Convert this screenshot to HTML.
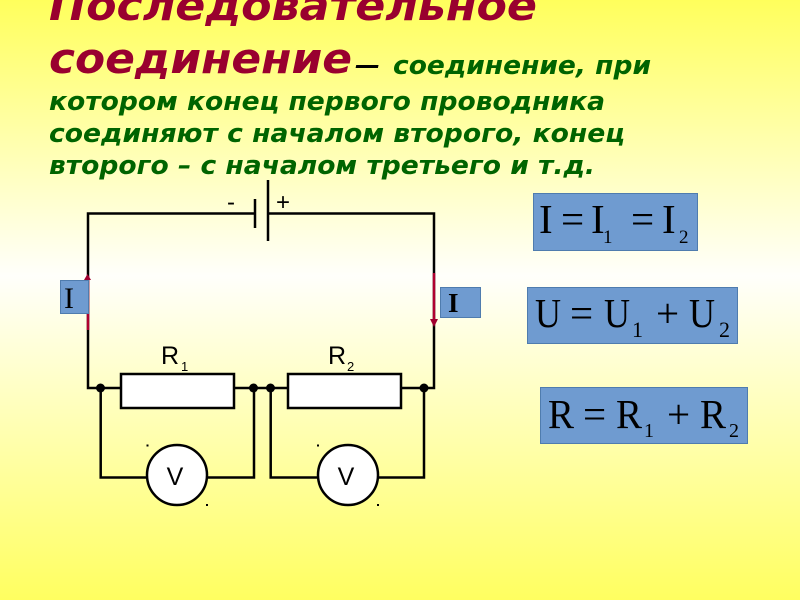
<!DOCTYPE html>
<html lang="ru">
<head>
<meta charset="utf-8">
<title>Последовательное соединение</title>
<style>
html,body{margin:0;padding:0;width:800px;height:600px;overflow:hidden}
body{background:linear-gradient(180deg,#ffff5c 0,#fffffb 46%,#ffff60 100%)}
svg{display:block}
.t{font-family:"DejaVu Sans",sans-serif;font-weight:bold;font-style:italic}
.s{font-family:"Liberation Serif",serif;fill:#000}
.a{font-family:"Liberation Sans",sans-serif;fill:#000}
</style>
</head>
<body>
<svg width="800" height="600" viewBox="0 0 800 600" xmlns="http://www.w3.org/2000/svg">
<text class="t" x="49" y="20" font-size="42" fill="#99002f" textLength="488" lengthAdjust="spacingAndGlyphs">Последовательное</text>
<text class="t" x="49" y="73" font-size="42" fill="#99002f" textLength="303" lengthAdjust="spacingAndGlyphs">соединение</text>
<text class="t" x="355" y="73" font-size="24" fill="#000" textLength="25" lengthAdjust="spacingAndGlyphs">—</text>
<text class="t" x="393" y="74" font-size="25.500" fill="#006400" textLength="258" lengthAdjust="spacingAndGlyphs">соединение, при</text>
<text class="t" x="49" y="110" font-size="25.500" fill="#006400" textLength="556" lengthAdjust="spacingAndGlyphs">котором конец первого проводника</text>
<text class="t" x="49" y="142" font-size="25.500" fill="#006400" textLength="576" lengthAdjust="spacingAndGlyphs">соединяют с началом второго, конец</text>
<text class="t" x="49" y="174" font-size="25.500" fill="#006400" textLength="546" lengthAdjust="spacingAndGlyphs">второго – с началом третьего и т.д.</text>

<!-- wires -->
<g fill="none" stroke="#000" stroke-width="2.500">
<path d="M255 213.500H88V388H121"/>
<path d="M268 213.500H434V388H401"/>
<path d="M234 388H288"/>
<path d="M255 199V228"/>
<path d="M268 180V241"/>
<path d="M100.700 388V477.500H147"/>
<path d="M254 388V477.500H207"/>
<path d="M270.700 388V477.500H318"/>
<path d="M424 388V477.500H378"/>
</g>
<!-- red arrows -->
<path d="M88 276V330" stroke="#b00030" stroke-width="2.500" fill="none"/>
<path d="M84 280L87.500 274L91 280Z" fill="#a00030"/>
<path d="M434 273V320" stroke="#b00030" stroke-width="2.500" fill="none"/>
<path d="M430 319H438L434 327Z" fill="#a00030"/>

<!-- resistors -->
<rect x="121" y="374" width="113" height="34" fill="#fff" stroke="#000" stroke-width="2.500"/>
<rect x="288" y="374" width="113" height="34" fill="#fff" stroke="#000" stroke-width="2.500"/>
<!-- nodes -->
<g fill="#000">
<circle cx="100.500" cy="388" r="4.500"/>
<circle cx="253.500" cy="388" r="4.500"/>
<circle cx="270.500" cy="388" r="4.500"/>
<circle cx="424" cy="388" r="4.500"/>
<rect x="146.500" y="444.500" width="2" height="2"/>
<rect x="206" y="504" width="2" height="2"/>
<rect x="317" y="444.500" width="2" height="2"/>
<rect x="377" y="504" width="2" height="2"/>
</g>
<!-- voltmeters -->
<circle cx="177" cy="475" r="30" fill="#fff" stroke="#000" stroke-width="2.500"/>
<circle cx="348" cy="475" r="30" fill="#fff" stroke="#000" stroke-width="2.500"/>
<text class="a" x="175" y="485" font-size="25" text-anchor="middle" fill="#222">V</text>
<text class="a" x="346" y="485" font-size="25" text-anchor="middle" fill="#222">V</text>

<!-- labels -->
<text class="a" x="161" y="364" font-size="25">R</text>
<text class="a" x="181" y="371" font-size="13">1</text>
<text class="a" x="328" y="364" font-size="25">R</text>
<text class="a" x="347" y="371" font-size="13">2</text>
<text class="a" x="227" y="210" font-size="24">-</text>
<text class="a" x="276" y="210" font-size="24">+</text>

<!-- I boxes -->
<rect x="60.500" y="280.500" width="28" height="33" fill="#6f9bd0" stroke="#4f7cae"/>
<text class="s" x="64" y="308" font-size="30">I</text>
<rect x="440.500" y="287.500" width="40" height="30" fill="#6f9bd0" stroke="#4f7cae"/>
<text class="s" x="448" y="312" font-size="27" font-weight="bold">I</text>

<!-- formula boxes -->
<rect x="533.500" y="193.500" width="164" height="57" fill="#6f9bd0" stroke="#4f7cae"/>
<text class="s" x="539" y="233" font-size="41">I</text>
<text class="s" x="561" y="233" font-size="41">=</text>
<text class="s" x="591" y="233" font-size="41">I</text>
<text class="s" x="603" y="243" font-size="19">1</text>
<text class="s" x="631" y="233" font-size="41">=</text>
<text class="s" x="662" y="233" font-size="41">I</text>
<text class="s" x="679" y="243" font-size="19">2</text>

<rect x="527.500" y="287.500" width="210" height="56" fill="#6f9bd0" stroke="#4f7cae"/>
<text class="s" x="535" y="327" font-size="41" textLength="26" lengthAdjust="spacingAndGlyphs">U</text>
<text class="s" x="570" y="327" font-size="41">=</text>
<text class="s" x="604" y="327" font-size="41" textLength="26" lengthAdjust="spacingAndGlyphs">U</text>
<text class="s" x="632" y="337" font-size="22">1</text>
<text class="s" x="656" y="327" font-size="41">+</text>
<text class="s" x="689" y="327" font-size="41" textLength="26" lengthAdjust="spacingAndGlyphs">U</text>
<text class="s" x="719" y="337" font-size="22">2</text>

<rect x="540.500" y="387.500" width="207" height="56" fill="#6f9bd0" stroke="#4f7cae"/>
<text class="s" x="548" y="428" font-size="41" textLength="26" lengthAdjust="spacingAndGlyphs">R</text>
<text class="s" x="583" y="428" font-size="41">=</text>
<text class="s" x="616" y="428" font-size="41" textLength="26" lengthAdjust="spacingAndGlyphs">R</text>
<text class="s" x="644" y="437" font-size="20">1</text>
<text class="s" x="667" y="428" font-size="41">+</text>
<text class="s" x="700" y="428" font-size="41" textLength="26" lengthAdjust="spacingAndGlyphs">R</text>
<text class="s" x="729" y="437" font-size="20">2</text>
</svg>
</body>
</html>
